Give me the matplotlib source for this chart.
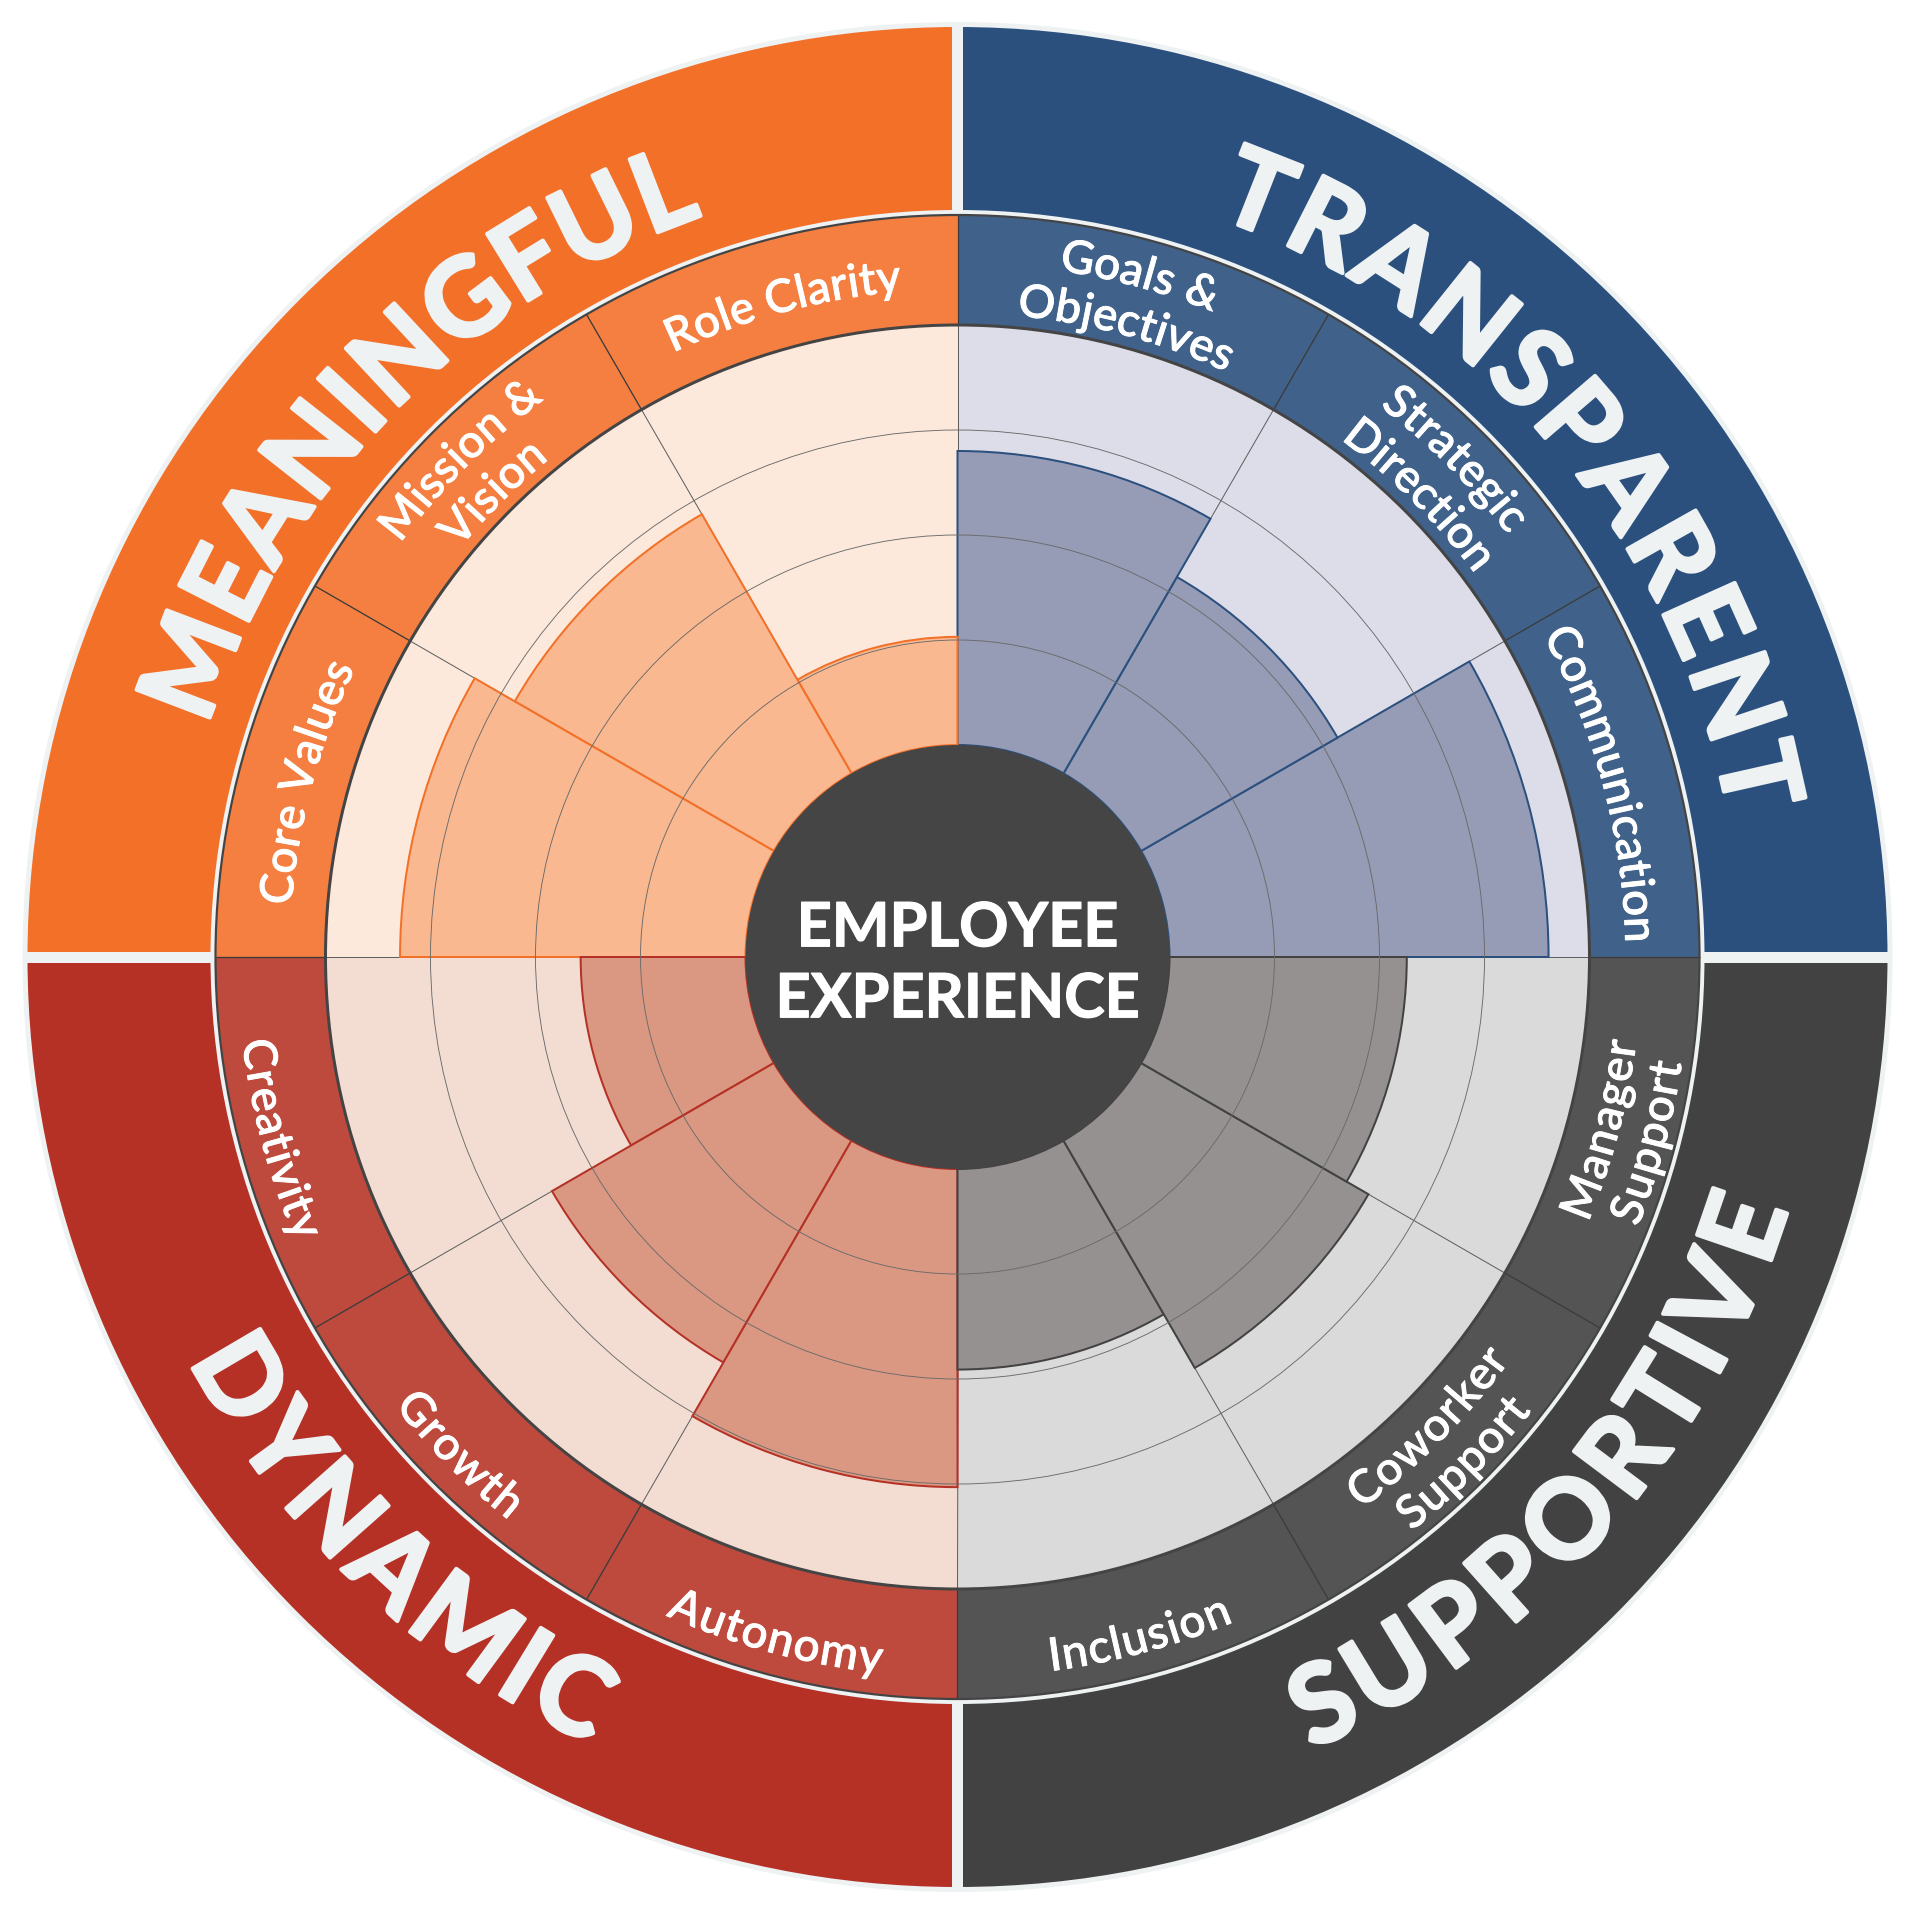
import numpy as np
import matplotlib
matplotlib.use("Agg")
import matplotlib.pyplot as plt
import matplotlib.patheffects as pe
from matplotlib.patches import Wedge, Circle, Rectangle
from matplotlib.font_manager import FontProperties

# ---------------- data ----------------
pillars = ["TRANSPARENT", "MEANINGFUL", "DYNAMIC", "SUPPORTIVE"]
categories = ["Communication", "Strategic\nDirection", "Goals &\nObjectives",
              "Role Clarity", "Mission &\nVision", "Core Values",
              "Creativity", "Growth", "Autonomy",
              "Inclusion", "Coworker\nSupport", "Manager\nSupport"]
category_pillar = ["TRANSPARENT"] * 3 + ["MEANINGFUL"] * 3 + ["DYNAMIC"] * 3 + ["SUPPORTIVE"] * 3
scores = [3.61, 2.16, 2.80, 1.03, 2.85, 3.29, 1.57, 2.44, 3.03, 1.91, 2.50, 2.26]
score_max = 4
grid_levels = [1, 2, 3]
center_title = ["EMPLOYEE", "EXPERIENCE"]

# ---------------- style ----------------
LIGHT = "#EEF2F3"
colors = {
    "MEANINGFUL":  dict(outer="#F37029", label="#F47F41", bg="#FCE9DB", bar="#F9B88F", edge="#F37029"),
    "TRANSPARENT": dict(outer="#2B507E", label="#40618A", bg="#DCDDE8", bar="#969BB6", edge="#2B507E"),
    "SUPPORTIVE":  dict(outer="#424242", label="#545454", bg="#DADADA", bar="#959190", edge="#424242"),
    "DYNAMIC":     dict(outer="#B53126", label="#BD4A3D", bg="#F3DDD2", bar="#DA9882", edge="#B53126"),
}
quad_range = {"TRANSPARENT": (0, 90), "MEANINGFUL": (90, 180), "DYNAMIC": (180, 270), "SUPPORTIVE": (270, 360)}
word_center = {"MEANINGFUL": 135.9, "TRANSPARENT": 40.6, "DYNAMIC": 226.3, "SUPPORTIVE": 318.6}
word_track = {"MEANINGFUL": 6, "TRANSPARENT": 9, "DYNAMIC": 4, "SUPPORTIVE": 5}

W, H = 1920, 1908
CX, CY = 957.5, 958.0
R_HOLE, R_DATA, R_LAB, R_OUT_IN, R_OUT, R_BORDER = 212, 632, 742, 747, 930, 935
PT = 0.72  # points per pixel at 100 dpi

fig = plt.figure(figsize=(W / 100, H / 100), dpi=100)
fig.patch.set_facecolor("white")
ax = fig.add_axes([0, 0, 1, 1])
ax.set_xlim(-CX, W - CX)
ax.set_ylim(-(H - CY), CY)
ax.axis("off")
renderer = fig.canvas.get_renderer()


def rad(v):
    return R_HOLE + v / score_max * (R_DATA - R_HOLE)


def arc_text(s, theta_c, r_base, fp, color, outward, tracking=0.0, stroke=0.0, z=10):
    def wid(t):
        return renderer.get_text_width_height_descent(t, fp, ismath=False)[0]
    cap = renderer.get_text_width_height_descent("H", fp, ismath=False)[1]
    r_m = r_base + cap / 2 if outward else r_base - cap / 2
    total = wid(s) + tracking * (len(s) - 1)
    effects = [pe.withStroke(linewidth=stroke * PT, foreground=color)] if stroke > 0 else None
    for i, ch in enumerate(s):
        if ch == " ":
            continue
        c = wid(s[:i + 1]) - wid(ch) / 2 + tracking * i - total / 2
        if outward:
            ang = np.radians(theta_c) - c / r_m
            rot = np.degrees(ang) - 90
        else:
            ang = np.radians(theta_c) + c / r_m
            rot = np.degrees(ang) + 90
        t = ax.text(r_base * np.cos(ang), r_base * np.sin(ang), ch, fontproperties=fp, color=color,
                    rotation=rot, rotation_mode="anchor", ha="center", va="baseline", zorder=z)
        if effects:
            t.set_path_effects(effects)


# outer ring
ax.add_patch(Circle((0, 0), R_BORDER, fc=LIGHT, ec="none", zorder=1))
for p in pillars:
    a0, a1 = quad_range[p]
    ax.add_patch(Wedge((0, 0), R_OUT, a0, a1, width=R_OUT - R_OUT_IN,
                       fc=colors[p]["outer"], ec="none", zorder=2))
g = 11
ax.add_patch(Rectangle((-R_OUT - 2, -g / 2), 2 * (R_OUT + 2), g, fc=LIGHT, ec="none", zorder=3))
ax.add_patch(Rectangle((-g / 2, -R_OUT - 2), g, 2 * (R_OUT + 2), fc=LIGHT, ec="none", zorder=3))

# label ring and data background
n = len(categories)
step = 360 / n
for k in range(n):
    p = category_pillar[k]
    a0, a1 = k * step, (k + 1) * step
    ax.add_patch(Wedge((0, 0), R_LAB, a0, a1, width=R_LAB - R_DATA,
                       fc=colors[p]["label"], ec="none", zorder=4))
    ax.add_patch(Wedge((0, 0), R_DATA, a0, a1, width=R_DATA - R_HOLE,
                       fc=colors[p]["bg"], ec="none", zorder=4))
for k in range(n):
    a = np.radians(k * step)
    ax.plot([R_DATA * np.cos(a), R_LAB * np.cos(a)], [R_DATA * np.sin(a), R_LAB * np.sin(a)],
            color="#3a3a3a", lw=1.3 * PT, zorder=5, solid_capstyle="butt")
    ax.plot([R_HOLE * np.cos(a), R_DATA * np.cos(a)], [R_HOLE * np.sin(a), R_DATA * np.sin(a)],
            color="#5e5e5e", lw=1.0 * PT, zorder=5, solid_capstyle="butt")

# bars
for k in range(n):
    p = category_pillar[k]
    r = rad(scores[k])
    ax.add_patch(Wedge((0, 0), r, k * step, (k + 1) * step, width=r - R_HOLE,
                       fc=colors[p]["bar"], ec=colors[p]["edge"], lw=2.0 * PT, zorder=6))

# grid circles
for lv in grid_levels:
    ax.add_patch(Circle((0, 0), rad(lv), fill=False, ec="#6a6a6a", lw=0.9 * PT, zorder=7))
ax.add_patch(Circle((0, 0), R_DATA, fill=False, ec="#444444", lw=3.0 * PT, zorder=8))
ax.add_patch(Circle((0, 0), R_LAB, fill=False, ec="#444444", lw=2.2 * PT, zorder=8))

# center
ax.add_patch(Circle((0, 0), R_HOLE, fc="#454545", ec="none", zorder=9))
fp_center = FontProperties(family="Lato", weight="bold", size=44)
for txt, yb in zip(center_title, [10.7, -60.3]):
    t = ax.text(0, yb, txt, fontproperties=fp_center, color="white",
                ha="center", va="baseline", zorder=10)
    t.set_path_effects([pe.withStroke(linewidth=1.2 * PT, foreground="white")])

# big pillar words
fp_big = FontProperties(family="Lato", weight="bold", size=78)
for p in pillars:
    outward = word_center[p] < 180
    r_b = 784 if outward else 868
    arc_text(p, word_center[p], r_b, fp_big, LIGHT, outward, tracking=word_track[p], stroke=4.0)

# category labels
fp_lab = FontProperties(family="Lato", weight="medium", size=33)
for k in range(n):
    theta = k * step + step / 2
    outward = theta < 180
    lines = categories[k].split("\n")
    if outward:
        bases = [668] if len(lines) == 1 else [694, 644]
    else:
        bases = [720] if len(lines) == 1 else [684, 732]
    for line, rb in zip(lines, bases):
        arc_text(line, theta, rb, fp_lab, "white", outward, tracking=0.8, stroke=0.9)

fig.savefig("out.png", dpi=100, facecolor="white")
